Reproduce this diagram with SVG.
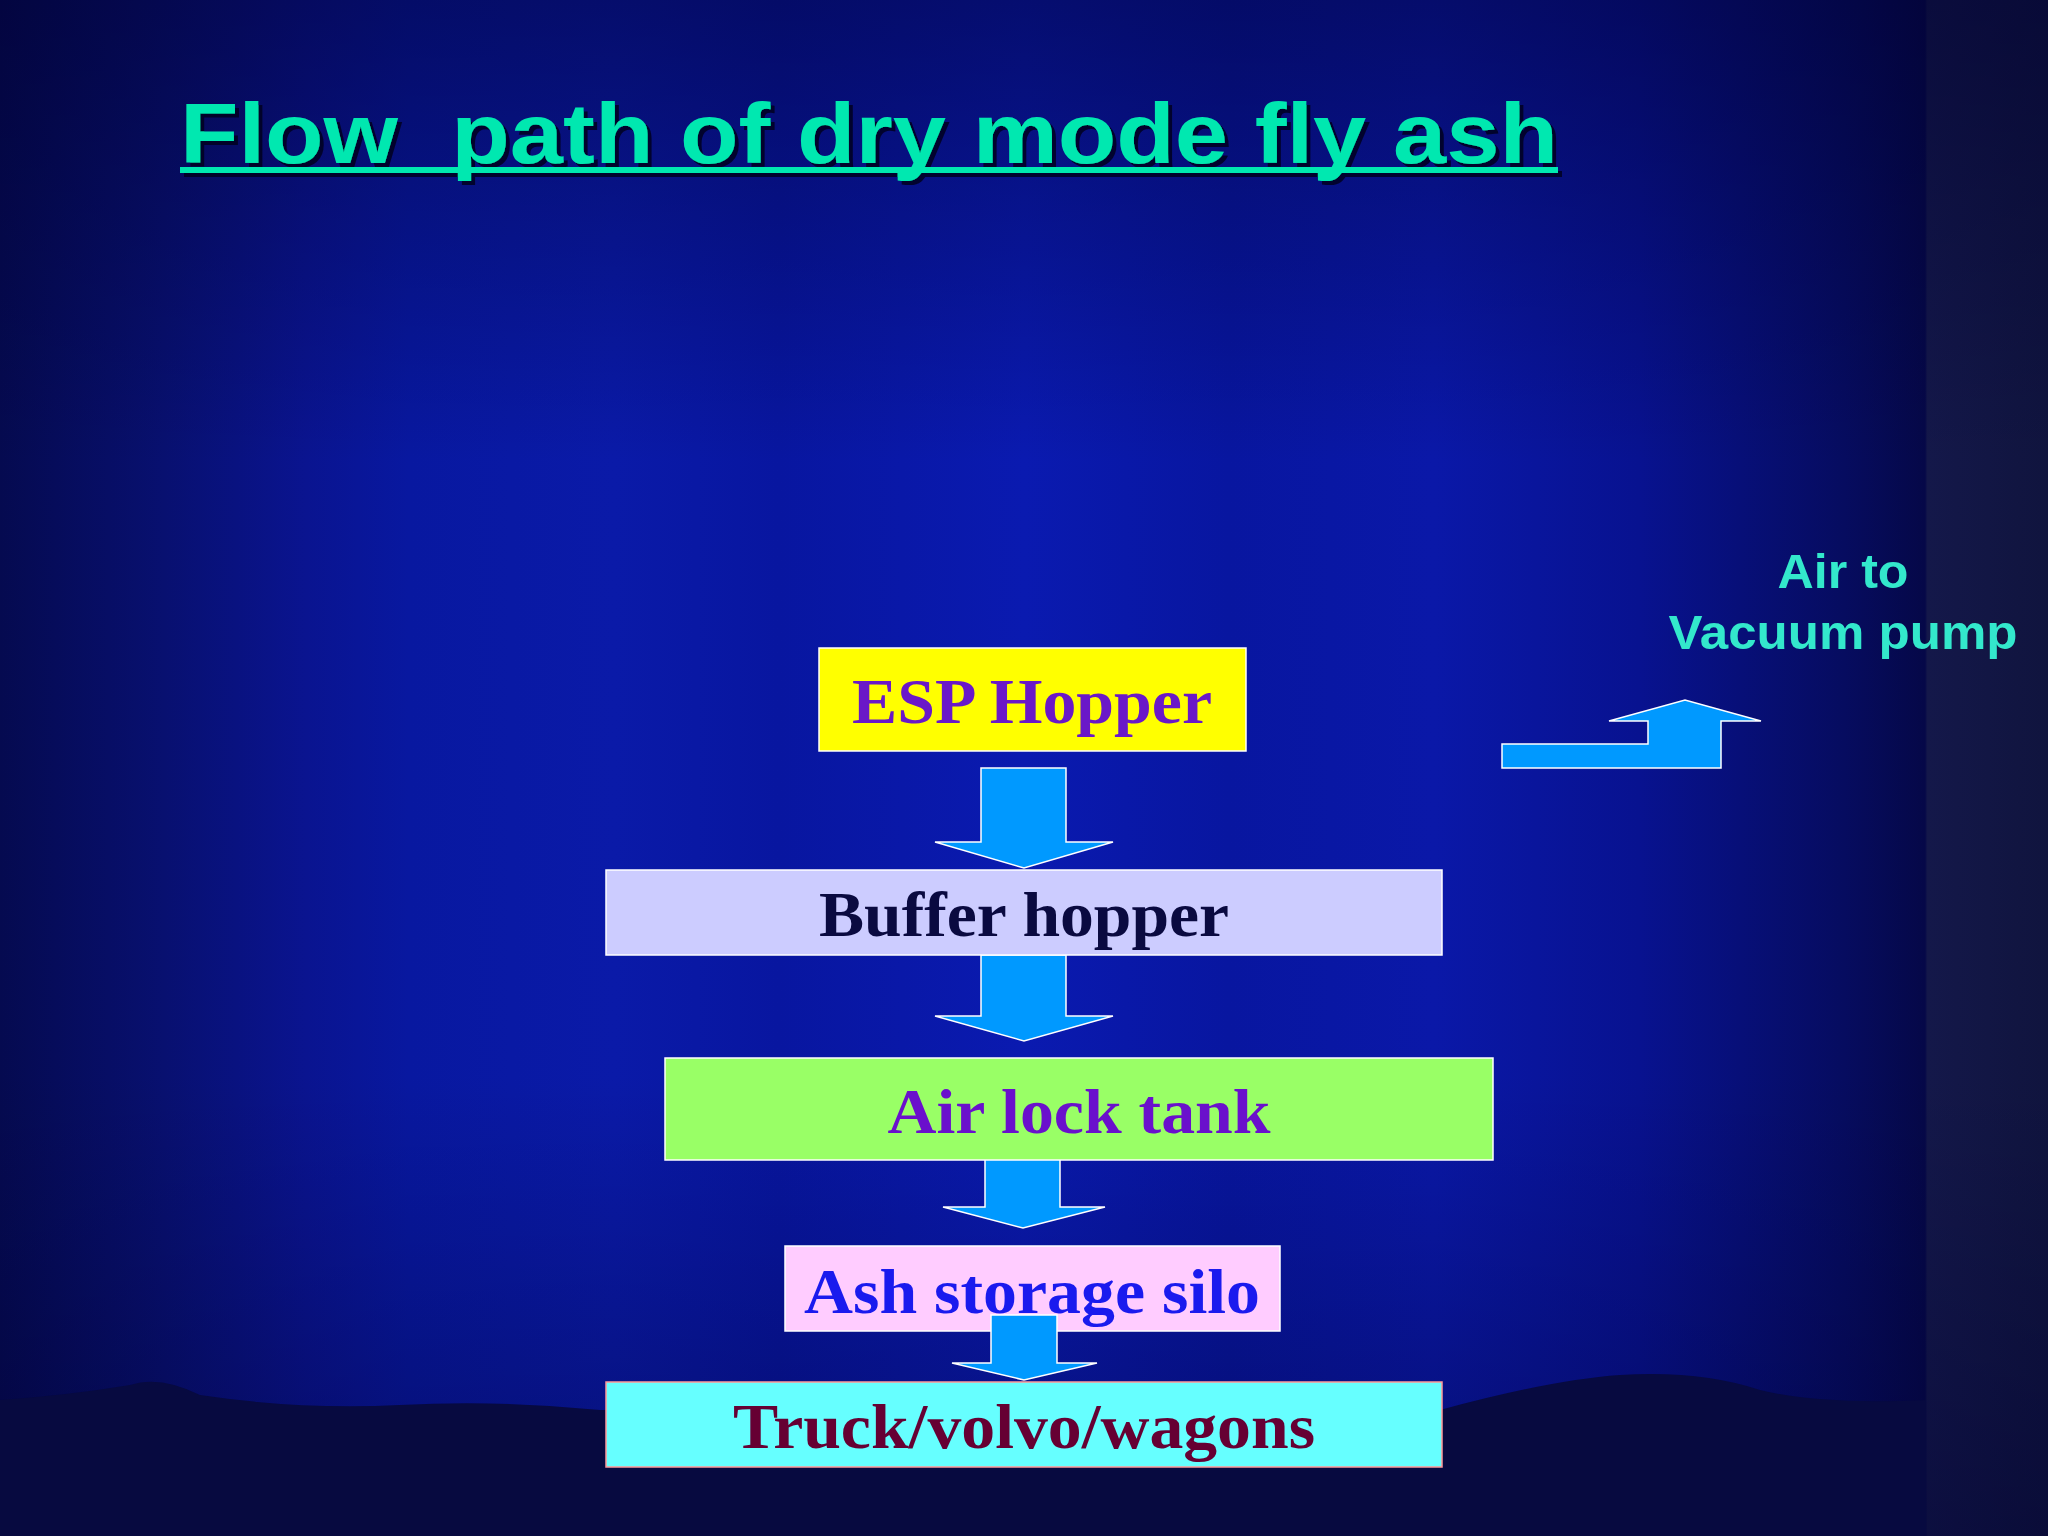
<svg xmlns="http://www.w3.org/2000/svg" width="2048" height="1536" viewBox="0 0 2048 1536">
<defs>
<linearGradient id="bg" x1="0" y1="0" x2="1" y2="0">
<stop offset="0" stop-color="#050a50"/>
<stop offset="0.08" stop-color="#081070"/>
<stop offset="0.15" stop-color="#0a1490"/>
<stop offset="0.2" stop-color="#0818a0"/>
<stop offset="0.3" stop-color="#0a1aa8"/>
<stop offset="0.38" stop-color="#0816a0"/>
<stop offset="0.5" stop-color="#0a1ab0"/>
<stop offset="0.6" stop-color="#0816a0"/>
<stop offset="0.7" stop-color="#0a18a8"/>
<stop offset="0.8" stop-color="#081290"/>
<stop offset="0.9" stop-color="#060c60"/>
<stop offset="0.94" stop-color="#050848"/>
<stop offset="0.941" stop-color="#14184a"/>
<stop offset="1" stop-color="#10143e"/>
</linearGradient>
<linearGradient id="vfade" x1="0" y1="0" x2="0" y2="1">
<stop offset="0" stop-color="#000030" stop-opacity="0.5"/>
<stop offset="0.3" stop-color="#000030" stop-opacity="0"/>
<stop offset="0.7" stop-color="#000030" stop-opacity="0"/>
<stop offset="1" stop-color="#000030" stop-opacity="0.4"/>
</linearGradient>
<filter id="sh" x="-5%" y="-20%" width="110%" height="140%">
<feDropShadow dx="4" dy="4" stdDeviation="0" flood-color="#000020" flood-opacity="0.85"/>
</filter>
<style>
.box{stroke:#ffffff;stroke-width:1.5}
.lbl{font-family:"Liberation Serif",serif;font-weight:bold;font-size:64px;text-anchor:middle}
.arr{fill:#0099ff;stroke:#ffffff;stroke-width:1.5}
</style>
</defs>
<rect width="2048" height="1536" fill="url(#bg)"/>
<rect width="2048" height="1536" fill="url(#vfade)"/>
<path d="M0 1400 Q70 1395 130 1385 Q160 1375 200 1395 Q300 1410 400 1405 Q500 1400 600 1410 L1440 1410 Q1550 1380 1620 1375 Q1700 1370 1760 1390 Q1820 1405 1926 1400 L1926 1536 L0 1536 Z" fill="#070a40"/>
<g id="title" filter="url(#sh)">
<text x="180" y="163" font-family="Liberation Sans,Arial,sans-serif" font-weight="bold" font-size="86" fill="#00e8b0" xml:space="preserve" textLength="1378" lengthAdjust="spacingAndGlyphs">Flow  path of dry mode fly ash</text>
<rect x="180" y="167" width="1378" height="6" fill="#00e8b0"/>
</g>
<g id="connectors">
<polygon class="arr" points="981,768 1066,768 1066,842 1113,842 1024,868 935,842 981,842"/>
<polygon class="arr" points="981,955 1066,955 1066,1016 1113,1016 1024,1041 935,1016 981,1016"/>
<polygon class="arr" points="985,1143 1060,1143 1060,1207 1105,1207 1023,1228 943,1207 985,1207"/>
<polygon class="arr" points="1502,744 1648,744 1648,721 1609,721 1685,700 1761,721 1721,721 1721,768 1502,768"/>
</g>
<g id="esp"><rect class="box" x="819" y="648" width="427" height="103" fill="#ffff00"/><text class="lbl" x="1032" y="723" fill="#6a18c8" textLength="360" lengthAdjust="spacingAndGlyphs">ESP Hopper</text></g>
<g id="buffer"><rect class="box" x="606" y="870" width="836" height="85" fill="#ccccff"/><text class="lbl" x="1024" y="936" fill="#0a0a40" textLength="410" lengthAdjust="spacingAndGlyphs">Buffer hopper</text></g>
<g id="airlock"><rect class="box" x="665" y="1058" width="828" height="102" fill="#99ff66"/><text class="lbl" x="1079" y="1133" fill="#6a10cc" textLength="383" lengthAdjust="spacingAndGlyphs">Air lock tank</text></g>
<g id="silo"><rect class="box" x="785" y="1246" width="495" height="85" fill="#ffccff"/><text class="lbl" x="1032" y="1313" fill="#1a1aee" textLength="456" lengthAdjust="spacingAndGlyphs">Ash storage silo</text></g>
<polygon class="arr" points="991,1315 1057,1315 1057,1363 1097,1363 1024,1380 952,1363 991,1363"/>
<g id="truck"><rect x="606" y="1382" width="836" height="85" fill="#66ffff" stroke="#ff9999" stroke-width="1.5"/><text class="lbl" x="1024" y="1448" fill="#660033" textLength="582" lengthAdjust="spacingAndGlyphs">Truck/volvo/wagons</text></g>
<g id="airpump" font-family="Liberation Sans,Arial,sans-serif" font-weight="bold" font-size="48" fill="#33e8cc" text-anchor="middle">
<text x="1843" y="588" textLength="131" lengthAdjust="spacingAndGlyphs">Air to</text>
<text x="1843" y="649" textLength="349" lengthAdjust="spacingAndGlyphs">Vacuum pump</text>
</g>
</svg>
